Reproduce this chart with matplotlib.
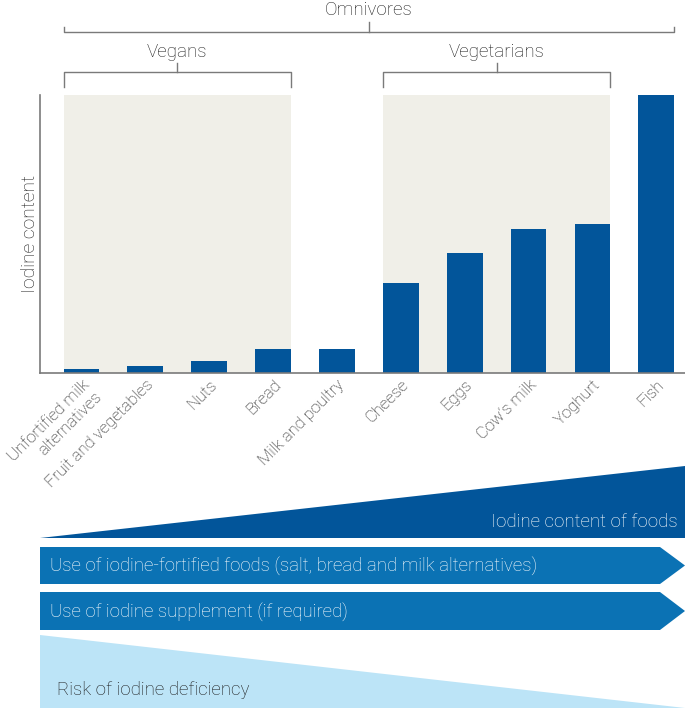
import matplotlib
matplotlib.use("Agg")
import matplotlib.pyplot as plt
from matplotlib.patches import Polygon

plt.rcParams['font.family'] = ['Roboto', 'DejaVu Sans']
plt.rcParams['font.weight'] = 'light'
plt.rcParams['axes.labelweight'] = 'light'

foods = ["Unfortified milk\nalternatives", "Fruit and vegetables", "Nuts", "Bread",
         "Milk and poultry", "Cheese", "Eggs", "Cow\u2019s milk", "Yoghurt", "Fish"]
iodine = [1.5, 2.5, 4.4, 8.7, 8.7, 32.3, 43.3, 51.8, 53.6, 100]
groups = ["Vegans", "Vegetarians"]
group_first = [0, 5]
group_last = [3, 8]
top_group = "Omnivores"

bar_col = "#02559a"
arrow_col = "#0b72b4"
light_col = "#bce4f7"
shade_col = "#f0efe8"
text_col = "#1a1a1a"
line_col = "#7a7a7a"

W, H = 685, 708
fig = plt.figure(figsize=(W / 100, H / 100), dpi=100)

# background overlay in pixel coordinates for the bottom diagram
bg = fig.add_axes([0, 0, 1, 1])
bg.set_xlim(0, W)
bg.set_ylim(H, 0)
bg.axis("off")

ax = fig.add_axes([40 / W, (H - 373) / H, 645 / W, 278 / H])
bw = 0.56
x = range(len(foods))

for g, a, b in zip(groups, group_first, group_last):
    ax.axvspan(a - bw / 2, b + bw / 2, color=shade_col, zorder=0, lw=0)

ax.bar(x, iodine, width=bw, color=bar_col, zorder=2)
ax.set_xlim(-0.65, 9.45)
ax.set_ylim(0, 100)
ax.set_xticks(list(x))
ax.set_xticklabels(foods, rotation=45, ha="right", rotation_mode="anchor",
                   fontsize=12, color=text_col, multialignment="right")
ax.tick_params(axis="x", length=0, pad=3)
ax.set_yticks([])
ax.set_ylabel("Iodine content", fontsize=13.8, color=text_col, labelpad=1)
for s in ["top", "right"]:
    ax.spines[s].set_visible(False)
for s in ["left", "bottom"]:
    ax.spines[s].set_color(line_col)
    ax.spines[s].set_linewidth(1.2)

tr = ax.get_xaxis_transform()


def bracket(x0, x1, y_end, y_line, y_tick, y_lab, label):
    ax.plot([x0, x0, x1, x1], [y_end, y_line, y_line, y_end], color=line_col,
            lw=1, transform=tr, clip_on=False)
    xm = (x0 + x1) / 2
    ax.plot([xm, xm], [y_line, y_tick], color=line_col, lw=1, transform=tr, clip_on=False)
    ax.text(xm, y_lab, label, transform=tr, ha="center", va="center",
            fontsize=13.5, color=text_col)


for g, a, b in zip(groups, group_first, group_last):
    bracket(a - bw / 2, b + bw / 2, 1.029, 1.083, 1.115, 1.155, g)
bracket(-bw / 2, len(foods) - 1 + bw / 2, 1.245, 1.227, 1.263, 1.307, top_group)

# bottom diagram
bg.add_patch(Polygon([(40, 538), (685, 466), (685, 538)], closed=True,
                     color=bar_col, lw=0))
bg.text(678, 522, "Iodine content of foods", ha="right", va="center",
        fontsize=13.5, color="white")

for y0, y1, label in [(547, 584, "Use of iodine-fortified foods (salt, bread and milk alternatives)"),
                      (592, 630, "Use of iodine supplement (if required)")]:
    ym = (y0 + y1) / 2
    bg.add_patch(Polygon([(40, y0), (660, y0), (685, ym), (660, y1), (40, y1)],
                         closed=True, color=arrow_col, lw=0))
    bg.text(50, ym + 1, label, ha="left", va="center", fontsize=13.4, color="white")

bg.add_patch(Polygon([(40, 635), (685, 708), (40, 708)], closed=True,
                     color=light_col, lw=0))
bg.text(57, 690, "Risk of iodine deficiency", ha="left", va="center",
        fontsize=13.5, color=text_col)

fig.savefig("out.png", dpi=100)
